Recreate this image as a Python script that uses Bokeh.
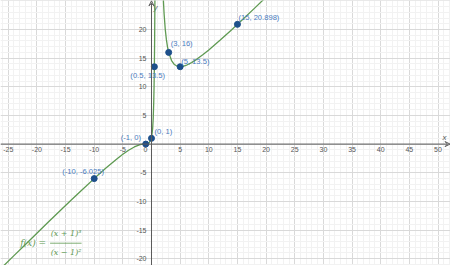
from bokeh.plotting import figure
from bokeh.models import Range1d, SingleIntervalTicker, ColumnDataSource, Arrow, VeeHead
from bokeh.core.properties import value
from bokeh.embed import file_html
from bokeh.resources import INLINE

# ---- data ----
left_x = [-26, -24, -22, -20, -18, -16, -14, -12, -10, -8, -6, -5, -4, -3, -2, -1.5, -1, -0.5,
          0, 0.2, 0.3, 0.4, 0.45, 0.5, 0.55, 0.6, 0.62]
left_y = [-21.43, -19.47, -17.51, -15.55, -13.61, -11.68, -9.76, -7.88, -6.025, -4.235, -2.551,
          -1.778, -1.08, -0.5, -0.111, -0.02, 0.0, 0.056, 1.0, 2.7, 4.484, 7.622, 10.078, 13.5,
          18.39, 25.6, 29.44]
right_x = [1.95, 2.0, 2.1, 2.2, 2.4, 2.6, 2.8, 3, 3.5, 4, 4.5, 5, 5.5, 6, 7, 8, 9, 10, 12, 14,
           15, 16, 18, 20]
right_y = [28.45, 27.0, 24.62, 22.76, 20.05, 18.225, 16.936, 16.0, 14.58, 13.889, 13.582, 13.5,
           13.562, 13.72, 14.222, 14.878, 15.625, 16.432, 18.157, 19.97, 20.898, 21.836, 23.734,
           25.654]
pt_x = [-10, -1, 0, 0.5, 3, 5, 15]
pt_y = [-6.025, 0, 1, 13.5, 16, 13.5, 20.898]
pt_labels = ["(-10, -6.025)", "(-1, 0)", "(0, 1)", "(0.5, 13.5)", "(3, 16)", "(5, 13.5)", "(15, 20.898)"]
x_ticks = [-25, -20, -15, -10, -5, 5, 10, 15, 20, 25, 30, 35, 40, 45, 50]
y_ticks = [-20, -15, -10, -5, 5, 10, 15, 20]

# label offsets in screen pixels (style)
lab_dx = [-32, -25, 3, -24, 2, 1, 1]
lab_dy = [-7, -7, -7, 9, -9, -5, -7]

CURVE = "#5f9a52"
PT = "#1d4f8a"
LAB = "#4a7cc0"
AX = "#5a5a5a"

p = figure(width=450, height=265, output_backend="svg", toolbar_location=None,
           x_range=Range1d(-26.35, 52.18), y_range=Range1d(-21.19, 25.06),
           min_border=0, min_border_left=0, min_border_right=0, min_border_top=0,
           min_border_bottom=0)
p.outline_line_color = None
p.background_fill_color = "white"
p.xaxis.visible = False
p.yaxis.visible = False

for g in (p.xgrid, p.ygrid):
    g.ticker = SingleIntervalTicker(interval=5, num_minor_ticks=5)
    g.grid_line_color = "#d9d9d9"
    g.grid_line_width = 1
    g.minor_grid_line_color = "#f2f2f2"
    g.minor_grid_line_width = 1

# axes through the origin
p.add_layout(Arrow(end=VeeHead(size=5, line_color=AX, line_width=1, fill_color=None),
                   x_start=-26.35, y_start=0, x_end=52.1, y_end=0, line_color=AX, line_width=1))
p.add_layout(Arrow(end=VeeHead(size=5, line_color=AX, line_width=1, fill_color=None),
                   x_start=0, y_start=-21.19, x_end=0, y_end=25.0, line_color=AX, line_width=1))

tick_font = value("Liberation Sans")
p.text(x=x_ticks, y=[0] * len(x_ticks), text=[str(t) for t in x_ticks], text_align="center",
       text_baseline="top", y_offset=3, text_font_size="7px", text_color="#555555",
       text_font=tick_font)
p.text(x=[0] * len(y_ticks), y=y_ticks, text=[str(t) for t in y_ticks], text_align="right",
       text_baseline="middle", x_offset=-5, text_font_size="7px", text_color="#555555",
       text_font=tick_font)
p.text(x=[0], y=[0], text=["0"], text_align="right", text_baseline="top", x_offset=-4,
       y_offset=3, text_font_size="7px", text_color="#555555", text_font=tick_font)
p.text(x=[52.18], y=[0], text=["x"], text_align="right", text_baseline="bottom", x_offset=-4,
       y_offset=-2, text_font_size="8px", text_color="#555555", text_font=tick_font,
       text_font_style="italic")
p.text(x=[0], y=[25.06], text=["y"], text_align="left", text_baseline="top", x_offset=2,
       y_offset=2, text_font_size="8px", text_color="#555555", text_font=tick_font,
       text_font_style="italic")

# curve
p.line(left_x, left_y, line_color=CURVE, line_width=1.3)
p.line(right_x, right_y, line_color=CURVE, line_width=1.3)

# points
src = ColumnDataSource(dict(x=pt_x, y=pt_y, t=pt_labels, dx=lab_dx, dy=lab_dy))
p.scatter("x", "y", source=src, size=6, fill_color=PT, line_color=PT)
p.text("x", "y", text="t", source=src, x_offset="dx", y_offset="dy", text_align="left",
       text_baseline="middle", text_font_size="7.6px", text_color=LAB,
       text_font=value("Liberation Sans"))

# formula
ff = value("DejaVu Serif")
p.text(x=[-22.9], y=[-17.3], text=["f(x)  ="], text_align="left", text_baseline="middle",
       text_font_size="9px", text_color=CURVE, text_font=ff, text_font_style="italic")
p.text(x=[-17.6], y=[-15.6], text=["(x + 1)³"], text_align="left", text_baseline="middle",
       text_font_size="8px", text_color=CURVE, text_font=ff, text_font_style="italic")
p.text(x=[-17.6], y=[-19.0], text=["(x − 1)²"], text_align="left", text_baseline="middle",
       text_font_size="8px", text_color=CURVE, text_font=ff, text_font_style="italic")
p.segment(x0=[-17.7], y0=[-17.3], x1=[-12.2], y1=[-17.3], line_color=CURVE, line_width=0.8)

open("out.html", "w").write(file_html(p, INLINE))
